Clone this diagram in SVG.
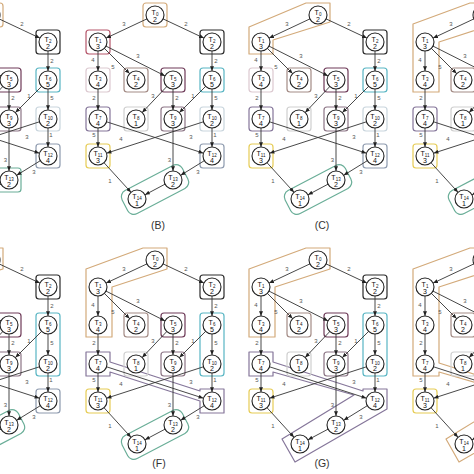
<svg xmlns="http://www.w3.org/2000/svg" xmlns:xlink="http://www.w3.org/1999/xlink" width="474" height="474" viewBox="0 0 474 474">
<style>
.ed{stroke:#333;stroke-width:0.9;fill:none;marker-end:url(#ah)}
.nc{fill:#fff;stroke:#222;stroke-width:1.1}
.nt{font-family:"Liberation Sans",Arial,sans-serif;font-size:7px;fill:#111;stroke:none;text-anchor:middle}
.sb{font-size:4.5px}
.el{font-family:"Liberation Sans",Arial,sans-serif;font-size:6px;fill:#555;stroke:none;text-anchor:middle}
.pl{font-family:"Liberation Sans",Arial,sans-serif;font-size:10.5px;fill:#333;stroke:none;text-anchor:middle}
.cl{fill:none;stroke-width:1.2;stroke-linejoin:round}
.or{stroke:#d3aa7a}.rd{stroke:#b5566a}.bk{stroke:#2a2a2a}.pk{stroke:#dcc9d0}.br{stroke:#a38b85}
.dp{stroke:#6e3a58}.cy{stroke:#58b5c3}.pu{stroke:#85769a}.lg{stroke:#cfcfcf}.gp{stroke:#8c7585}
.lb{stroke:#c9d5dd}.ye{stroke:#e6cc55}.gb{stroke:#8d9aae}.te{stroke:#6aae98}
</style>
<defs>
<marker id="ah" viewBox="0 0 6 5" refX="6" refY="2.5" markerWidth="5" markerHeight="4" markerUnits="userSpaceOnUse" orient="auto"><path d="M0,0L6,2.5L0,5z" fill="#222"/></marker>
<rect id="b0" x="143" y="3" width="24" height="24" rx="3"/>
<rect id="b1" x="86" y="30" width="24" height="24" rx="3"/>
<rect id="b2" x="200" y="30" width="24" height="24" rx="3"/>
<rect id="b3" x="86" y="68" width="24" height="24" rx="3"/>
<rect id="b4" x="124" y="68" width="24" height="24" rx="3"/>
<rect id="b5" x="161" y="68" width="24" height="24" rx="3"/>
<rect id="b6" x="200" y="68" width="24" height="24" rx="3"/>
<rect id="b7" x="86" y="107" width="24" height="24" rx="3"/>
<rect id="b8" x="124" y="107" width="24" height="24" rx="3"/>
<rect id="b9" x="161" y="107" width="24" height="24" rx="3"/>
<rect id="b10" x="200" y="107" width="24" height="24" rx="3"/>
<rect id="b11" x="86" y="144" width="24" height="24" rx="3"/>
<rect id="b12" x="200" y="144" width="24" height="24" rx="3"/>
<rect id="b13" x="161" y="168" width="24" height="24" rx="3"/>
<rect id="b14" x="125" y="187" width="24" height="24" rx="3"/>
<rect id="cap1314" x="121" y="176.5" width="68" height="26" rx="7" transform="rotate(-27.8 155 189.5)"/>
<rect id="cyan610" x="200" y="68" width="24" height="63" rx="3"/>
<path id="orC" d="M86,27 L143,3 L167,3 L167,22 L110,40 L110,54 L86,54 Z"/>
<path id="orD" d="M86,24 L143,3 L167,3 L167,24 L112,42 L112,92 L86,92 Z"/>
<path id="puF" d="M86,107 L110,107 L110,117 L200,146 L200,144 L224,144 L224,168 L200,168 L200,156 L110,127 L110,131 L86,131 Z"/>
<path id="puG" d="M86,107 L110,107 L110,117 L200,146 L200,144 L224,144 L224,164 L132,217 L119,194 L191,150 L110,127 L110,131 L86,131 Z"/>
<path id="orH" d="M86,24 L143,3 L167,3 L167,24 L112,42 L112,118 L200,146 L200,144 L224,144 L224,164 L132,217 L119,194 L191,150 L112,127 L112,131 L86,131 Z"/>
<g id="graph">
<g id="connectors">
<line class="ed" x1="146.9" y1="18.9" x2="106.1" y2="38.1"/>
<line class="ed" x1="163.1" y1="18.9" x2="203.9" y2="38.1"/>
<line class="ed" x1="98" y1="51" x2="98" y2="71"/>
<line class="ed" x1="104.4" y1="48.4" x2="129.6" y2="73.6"/>
<line class="ed" x1="106" y1="46.1" x2="165" y2="75.9"/>
<line class="ed" x1="212" y1="51" x2="212" y2="71"/>
<line class="ed" x1="98" y1="89" x2="98" y2="110"/>
<line class="ed" x1="166.8" y1="86.5" x2="142.2" y2="112.5"/>
<line class="ed" x1="173" y1="89" x2="173" y2="110"/>
<line class="ed" x1="205.6" y1="86.4" x2="179.4" y2="112.6"/>
<line class="ed" x1="212" y1="89" x2="212" y2="110"/>
<line class="ed" x1="98" y1="128" x2="98" y2="147"/>
<line class="ed" x1="106.6" y1="121.8" x2="203.4" y2="153.2"/>
<line class="ed" x1="203.4" y1="121.8" x2="106.6" y2="153.2"/>
<line class="ed" x1="212" y1="128" x2="212" y2="147"/>
<line class="ed" x1="173" y1="128" x2="173" y2="171"/>
<line class="ed" x1="204.3" y1="160.7" x2="180.7" y2="175.3"/>
<line class="ed" x1="104" y1="162.7" x2="131" y2="192.3"/>
<line class="ed" x1="165" y1="184.2" x2="145" y2="194.8"/>
<text class="el" x="124" y="26">3</text>
<text class="el" x="186" y="25.5">2</text>
<text class="el" x="93" y="62">4</text>
<text class="el" x="113" y="69">5</text>
<text class="el" x="138" y="58">3</text>
<text class="el" x="216" y="63">2</text>
<text class="el" x="94" y="99.5">2</text>
<text class="el" x="153" y="98">3</text>
<text class="el" x="177" y="99.5">2</text>
<text class="el" x="193" y="98">1</text>
<text class="el" x="216" y="99.5">5</text>
<text class="el" x="94" y="137">5</text>
<text class="el" x="121" y="141">4</text>
<text class="el" x="191" y="139">3</text>
<text class="el" x="215" y="137">1</text>
<text class="el" x="169.5" y="162">3</text>
<text class="el" x="198" y="174">3</text>
<text class="el" x="110" y="183">1</text>
</g>
<g id="n-T0"><circle class="nc" cx="155" cy="15" r="9"/><text class="nt" x="155" y="14.5">T<tspan class="sb" dy="1.5">0</tspan></text><text class="nt" x="155" y="21.5">2</text></g>
<g id="n-T1"><circle class="nc" cx="98" cy="42" r="9"/><text class="nt" x="98" y="41.5">T<tspan class="sb" dy="1.5">1</tspan></text><text class="nt" x="98" y="48.5">3</text></g>
<g id="n-T2"><circle class="nc" cx="212" cy="42" r="9"/><text class="nt" x="212" y="41.5">T<tspan class="sb" dy="1.5">2</tspan></text><text class="nt" x="212" y="48.5">2</text></g>
<g id="n-T3"><circle class="nc" cx="98" cy="80" r="9"/><text class="nt" x="98" y="79.5">T<tspan class="sb" dy="1.5">3</tspan></text><text class="nt" x="98" y="86.5">4</text></g>
<g id="n-T4"><circle class="nc" cx="136" cy="80" r="9"/><text class="nt" x="136" y="79.5">T<tspan class="sb" dy="1.5">4</tspan></text><text class="nt" x="136" y="86.5">2</text></g>
<g id="n-T5"><circle class="nc" cx="173" cy="80" r="9"/><text class="nt" x="173" y="79.5">T<tspan class="sb" dy="1.5">5</tspan></text><text class="nt" x="173" y="86.5">3</text></g>
<g id="n-T6"><circle class="nc" cx="212" cy="80" r="9"/><text class="nt" x="212" y="79.5">T<tspan class="sb" dy="1.5">6</tspan></text><text class="nt" x="212" y="86.5">5</text></g>
<g id="n-T7"><circle class="nc" cx="98" cy="119" r="9"/><text class="nt" x="98" y="118.5">T<tspan class="sb" dy="1.5">7</tspan></text><text class="nt" x="98" y="125.5">4</text></g>
<g id="n-T8"><circle class="nc" cx="136" cy="119" r="9"/><text class="nt" x="136" y="118.5">T<tspan class="sb" dy="1.5">8</tspan></text><text class="nt" x="136" y="125.5">1</text></g>
<g id="n-T9"><circle class="nc" cx="173" cy="119" r="9"/><text class="nt" x="173" y="118.5">T<tspan class="sb" dy="1.5">9</tspan></text><text class="nt" x="173" y="125.5">3</text></g>
<g id="n-T10"><circle class="nc" cx="212" cy="119" r="9"/><text class="nt" x="212" y="118.5">T<tspan class="sb" dy="1.5">10</tspan></text><text class="nt" x="212" y="125.5">2</text></g>
<g id="n-T11"><circle class="nc" cx="98" cy="156" r="9"/><text class="nt" x="98" y="155.5">T<tspan class="sb" dy="1.5">11</tspan></text><text class="nt" x="98" y="162.5">3</text></g>
<g id="n-T12"><circle class="nc" cx="212" cy="156" r="9"/><text class="nt" x="212" y="155.5">T<tspan class="sb" dy="1.5">12</tspan></text><text class="nt" x="212" y="162.5">4</text></g>
<g id="n-T13"><circle class="nc" cx="173" cy="180" r="9"/><text class="nt" x="173" y="179.5">T<tspan class="sb" dy="1.5">13</tspan></text><text class="nt" x="173" y="186.5">2</text></g>
<g id="n-T14"><circle class="nc" cx="137" cy="199" r="9"/><text class="nt" x="137" y="198.5">T<tspan class="sb" dy="1.5">14</tspan></text><text class="nt" x="137" y="205.5">1</text></g>
</g>
</defs>
<rect width="474" height="474" fill="#fff"/>
<g id="panel-A" transform="translate(-164,0)">
<use href="#b0" class="cl or"/><use href="#b1" class="cl rd"/><use href="#b2" class="cl bk"/><use href="#b3" class="cl pk"/><use href="#b4" class="cl br"/><use href="#b5" class="cl dp"/><use href="#b6" class="cl cy"/><use href="#b7" class="cl pu"/><use href="#b8" class="cl lg"/><use href="#b9" class="cl gp"/><use href="#b10" class="cl lb"/><use href="#b11" class="cl ye"/><use href="#b12" class="cl gb"/><use href="#b13" class="cl te"/><use href="#b14" class="cl te"/>
<use href="#graph"/>
</g>
<g id="panel-B">
<use href="#b0" class="cl or"/><use href="#b1" class="cl rd"/><use href="#b2" class="cl bk"/><use href="#b3" class="cl pk"/><use href="#b4" class="cl br"/><use href="#b5" class="cl dp"/><use href="#b6" class="cl cy"/><use href="#b7" class="cl pu"/><use href="#b8" class="cl lg"/><use href="#b9" class="cl gp"/><use href="#b10" class="cl lb"/><use href="#b11" class="cl ye"/><use href="#b12" class="cl gb"/><use href="#cap1314" class="cl te"/>
<use href="#graph"/>
<text class="pl" x="158" y="229">(B)</text>
</g>
<g id="panel-C" transform="translate(163,0)">
<use href="#orC" class="cl or"/><use href="#b2" class="cl bk"/><use href="#b3" class="cl pk"/><use href="#b4" class="cl br"/><use href="#b5" class="cl dp"/><use href="#b6" class="cl cy"/><use href="#b7" class="cl pu"/><use href="#b8" class="cl lg"/><use href="#b9" class="cl gp"/><use href="#b10" class="cl lb"/><use href="#b11" class="cl ye"/><use href="#b12" class="cl gb"/><use href="#cap1314" class="cl te"/>
<use href="#graph"/>
<text class="pl" x="159" y="229">(C)</text>
</g>
<g id="panel-D" transform="translate(327,0)">
<use href="#orD" class="cl or"/><use href="#b2" class="cl bk"/><use href="#b4" class="cl br"/><use href="#b5" class="cl dp"/><use href="#b6" class="cl cy"/><use href="#b7" class="cl pu"/><use href="#b8" class="cl lg"/><use href="#b9" class="cl gp"/><use href="#b10" class="cl lb"/><use href="#b11" class="cl ye"/><use href="#b12" class="cl gb"/><use href="#cap1314" class="cl te"/>
<use href="#graph"/>
</g>
<g id="panel-E" transform="translate(-164,245)">
<use href="#orD" class="cl or"/><use href="#b2" class="cl bk"/><use href="#b4" class="cl br"/><use href="#b5" class="cl dp"/><use href="#cyan610" class="cl cy"/><use href="#b7" class="cl pu"/><use href="#b8" class="cl lg"/><use href="#b9" class="cl gp"/><use href="#b11" class="cl ye"/><use href="#b12" class="cl gb"/><use href="#cap1314" class="cl te"/>
<use href="#graph"/>
</g>
<g id="panel-F" transform="translate(0,245)">
<use href="#orD" class="cl or"/><use href="#b2" class="cl bk"/><use href="#b4" class="cl br"/><use href="#b5" class="cl dp"/><use href="#cyan610" class="cl cy"/><use href="#puF" class="cl pu"/><use href="#b8" class="cl lg"/><use href="#b9" class="cl gp"/><use href="#b11" class="cl ye"/><use href="#cap1314" class="cl te"/>
<use href="#graph"/>
<text class="pl" x="159" y="222">(F)</text>
</g>
<g id="panel-G" transform="translate(163,245)">
<use href="#orD" class="cl or"/><use href="#b2" class="cl bk"/><use href="#b4" class="cl br"/><use href="#b5" class="cl dp"/><use href="#cyan610" class="cl cy"/><use href="#puG" class="cl pu"/><use href="#b8" class="cl lg"/><use href="#b9" class="cl gp"/><use href="#b11" class="cl ye"/>
<use href="#graph"/>
<text class="pl" x="159" y="222">(G)</text>
</g>
<g id="panel-H" transform="translate(327,245)">
<use href="#orH" class="cl or"/><use href="#b2" class="cl bk"/><use href="#b4" class="cl br"/><use href="#b5" class="cl dp"/><use href="#cyan610" class="cl cy"/><use href="#b8" class="cl lg"/><use href="#b9" class="cl gp"/><use href="#b11" class="cl ye"/>
<use href="#graph"/>
</g>
</svg>
